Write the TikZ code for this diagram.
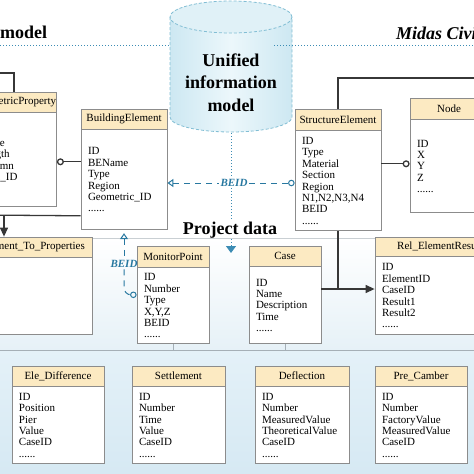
\documentclass[tikz,border=0pt]{standalone}
\usepackage{fontspec}
\setmainfont{Liberation Serif}
\usetikzlibrary{positioning, arrows.meta}

\definecolor{headfill}{RGB}{252,234,194}
\definecolor{boxline}{RGB}{140,140,140}
\definecolor{connline}{RGB}{55,55,55}
\definecolor{beidblue}{RGB}{40,120,160}
\definecolor{flowblue}{RGB}{60,140,180}
\definecolor{cylside}{RGB}{205,232,242}
\definecolor{cylmid}{RGB}{236,247,251}
\definecolor{cyledge}{RGB}{130,190,212}
\definecolor{bandtop}{RGB}{228,241,248}
\definecolor{bandbot}{RGB}{214,233,243}
\definecolor{midbot}{RGB}{230,241,247}
\definecolor{sepgray}{RGB}{165,175,182}

\newcommand{\tabfont}{\fontsize{11}{11.4}\selectfont}
\newcommand{\bigfont}{\fontsize{18}{22.5}\selectfont\bfseries}

\begin{document}
\begin{tikzpicture}[x=1pt, y=1pt,
    thead/.style={draw=boxline, fill=headfill, line width=0.8pt, inner sep=0pt,
      minimum height=20pt, font=\tabfont},
    tbody/.style={draw=boxline, fill=white, line width=0.8pt, inner xsep=7pt,
      inner ysep=0pt, align=left, text width=#1, font=\tabfont},
    conn/.style={draw=connline, line width=1.3pt},
    beid/.style={draw=beidblue, line width=1pt, dash pattern=on 6pt off 5pt},
    beidtag/.style={text=beidblue, font=\tabfont\bfseries\itshape, inner sep=1.5pt},
    flow/.style={draw=flowblue, line width=1pt, dash pattern=on 1pt off 2pt},
    bandline/.style={draw=sepgray, line width=0.8pt}]
    \useasboundingbox (0,0) rectangle (474,-474);
    \clip (0,0) rectangle (474,-474);

    % Background
    \shade[top color=white, bottom color=midbot] (0,-238) rectangle (474,-350);
    \shade[top color=bandtop, bottom color=bandbot] (0,-350) rectangle (474,-474);
    \draw[sepgray!60, line width=0.6pt] (0,-238) -- (474,-238);
    \draw[bandline] (0,-350) -- (474,-350);

    % Cylinder
    \shade[left color=cylside, right color=cylside, middle color=cylmid]
      (170,-17) -- (170,-117) arc[start angle=180, end angle=360, x radius=61, y radius=15]
      -- (292,-17) arc[start angle=0, end angle=180, x radius=61, y radius=16] -- cycle;
    \draw[cyledge, line width=0.8pt, dash pattern=on 3pt off 2pt]
      (170,-17) -- (170,-117) arc[start angle=180, end angle=360, x radius=61, y radius=15]
      -- (292,-17);
    \draw[cyledge, fill=cylmid!60!cylside, line width=0.8pt, dash pattern=on 3pt off 2pt]
      (231,-17) ellipse[x radius=61, y radius=16];
    \draw[flow] (0,-45) -- (170,-45);
    \draw[flow] (274,-45) -- (474,-45);

    % Titles
    \node[font=\bigfont, anchor=west, inner sep=0pt] (bim) at (0,-32) {model};
    \node[font=\bigfont\itshape, anchor=west, inner sep=0pt] (midas) at (396,-33) {Midas Civil};
    \node[font=\bigfont, align=center] (uim) at (231,-82.5) {Unified\\information\\model};
    \node[font=\bigfont, inner sep=1pt] (pd) at (230,-230) {Project data};

    % Tables
    \node[thead, minimum width=85pt] (geoH) at (14,-102) {GeometricProperty};
    \node[tbody=71pt, minimum height=94pt, below=0pt of geoH] (geo) {ID\\Name\\Length\\Column\\Span\_ID\\......};

    \node[thead, minimum width=86pt] (beH) at (124,-119) {BuildingElement};
    \node[tbody=72pt, minimum height=100pt, below=0pt of beH] (be) {ID\\BEName\\Type\\Region\\Geometric\_ID\\......};

    \node[thead, minimum width=86pt, minimum height=21pt] (seH) at (338,-119.5) {StructureElement};
    \node[tbody=72pt, minimum height=100pt, below=0pt of seH] (se) {ID\\Type\\Material\\Section\\Region\\N1,N2,N3,N4\\BEID\\......};

    \node[thead, minimum width=78pt, minimum height=21pt] (ndH) at (449,-108.5) {Node};
    \node[tbody=64pt, minimum height=93pt, below=0pt of ndH] (nd) {ID\\X\\Y\\Z\\......};

    \node[thead, minimum width=118pt] (etpH) at (33,-247) {Element\_To\_Properties};
    \node[tbody=104pt, minimum height=77pt, below=0pt of etpH] (etp) {};

    \node[thead, minimum width=72pt, minimum height=21pt] (mpH) at (173,-256.5) {MonitorPoint};
    \node[tbody=58pt, minimum height=76pt, below=0pt of mpH] (mp) {ID\\Number\\Type\\X,Y,Z\\BEID\\......};

    \node[thead, minimum width=72pt] (csH) at (285,-256) {Case};
    \node[tbody=58pt, minimum height=77pt, below=0pt of csH] (cs) {ID\\Name\\Description\\Time\\......};

    \node[thead, minimum width=130pt, minimum height=19pt] (rerH) at (440,-246.5) {Rel\_ElementResult};
    \node[tbody=116pt, minimum height=78pt, below=0pt of rerH] (rer) {ID\\ElementID\\CaseID\\Result1\\Result2\\......};

    \node[thead, minimum width=92pt] (edH) at (58,-376) {Ele\_Difference};
    \node[tbody=78pt, minimum height=77pt, below=0pt of edH] (ed) {ID\\Position\\Pier\\Value\\CaseID\\......};

    \node[thead, minimum width=93pt] (stH) at (178.5,-376) {Settlement};
    \node[tbody=79pt, minimum height=77pt, below=0pt of stH] (st) {ID\\Number\\Time\\Value\\CaseID\\......};

    \node[thead, minimum width=94pt] (dfH) at (302,-376) {Deflection};
    \node[tbody=80pt, minimum height=77pt, below=0pt of dfH] (df) {ID\\Number\\MeasuredValue\\TheoreticalValue\\CaseID\\......};

    \node[thead, minimum width=92pt] (pcH) at (421,-376) {Pre\_Camber};
    \node[tbody=78pt, minimum height=77pt, below=0pt of pcH] (pc) {ID\\Number\\FactoryValue\\MeasuredValue\\CaseID\\......};

    % Free ends
    \coordinate (geoOut) at (-20,-73);
    \coordinate (seOut) at (490,-78);
    \coordinate (beOut) at (-20,-215);
    \coordinate (etpIn) at (4,-215);
    \coordinate (jn) at (337,-289);
    \coordinate (cylbot) at (231,-133);
    \coordinate (flowend) at (231,-253);
    \coordinate (bandL) at (0,-350);

    % Edges
    \draw[conn] (geoH.north) |- (geoOut);
    \draw[conn, {Circle[open, length=7pt, width=7pt]}-] ([yshift=-2pt]geo.east) -- ([yshift=18pt]be.west);
    \draw[conn] ([yshift=-36pt]be.west) -- (beOut);
    \draw[conn, -{Triangle[length=9pt, width=8pt]}] (etpIn) -- (etpIn |- etpH.north);
    \draw[conn] (seH.north) |- (seOut);
    \draw[conn, -{Circle[open, length=7pt, width=7pt]}] ([yshift=17pt]se.east) -- ([yshift=2.5pt]nd.west);
    \draw[conn] (se.south) -- (se.south |- jn);
    \draw[conn, -{Triangle[length=9pt, width=8pt]}] (cs.east |- jn) -- (rer.west |- jn);
    \draw[bandline] (mp.south) -- (mp.south |- bandL);
    \draw[bandline] (cs.south) -- (cs.south |- bandL);

    % BEID links
    \node[beidtag] (beidh) at (234,-183) {BEID};
    \draw[beid, {Triangle[open, length=6pt, width=8pt]}-] (be.east |- beidh) -- (beidh);
    \draw[beid, -{Circle[open, length=6.5pt, width=6.5pt]}] (beidh) -- (se.west |- beidh);
    \node[beidtag] (beidv) at (124,-264) {BEID};
    \draw[beid, {Triangle[open, length=6pt, width=8pt]}-] ([yshift=-3pt]be.south) -- (beidv);
    \draw[beid, -{Circle[open, length=6.5pt, width=6.5pt]}, rounded corners=7pt] (beidv) |- ([yshift=11pt]mp.west);

    % Data flow
    \draw[flow] (cylbot) -- (cylbot |- beidh.north);
    \draw[flow] (cylbot |- beidh.south) -- (cylbot |- pd.north);
    \draw[flow, -{Triangle[length=7pt, width=10pt]}] (cylbot |- pd.south) -- (flowend);
\end{tikzpicture}
\end{document}
